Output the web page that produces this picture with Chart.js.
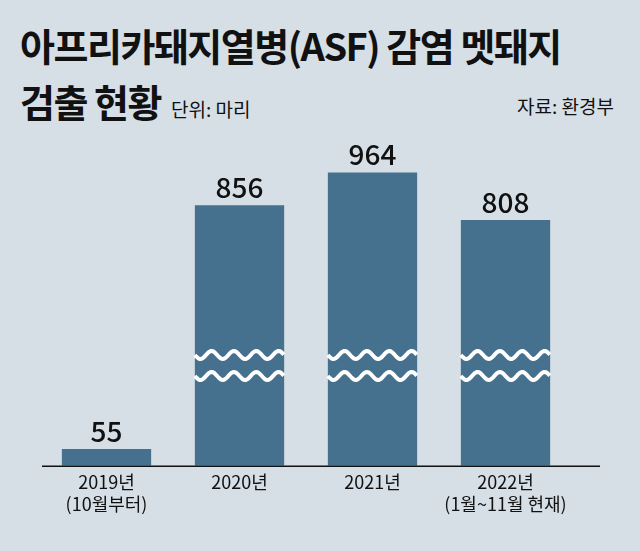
<!DOCTYPE html>
<html>
<head>
<meta charset="utf-8">
<script src="https://cdn.jsdelivr.net/npm/chart.js@4"></script>
<style>
  body { margin: 0; width: 640px; height: 551px; background: #d6dfe6; font-family: "Noto Sans CJK KR", sans-serif; position: relative; overflow: hidden; }
  .t1 { position: absolute; left: 20px; top: 20px; font-size: 38px; font-weight: 700; color: #111; letter-spacing: -1.5px; line-height: 50px; }
  .t2 { position: absolute; left: 20px; top: 76px; font-size: 38px; font-weight: 700; color: #111; letter-spacing: -1.5px; line-height: 50px; }
  .t2 span { font-size: 19px; font-weight: 400; margin-left: 10px; letter-spacing: 0; }
  .src { position: absolute; right: 26px; top: 92px; font-size: 19px; color: #111; }
  .wrap { position: absolute; left: 0; top: 125px; width: 640px; height: 426px; }
</style>
</head>
<body>
<div class="t1">아프리카돼지열병(ASF) 감염 멧돼지</div>
<div class="t2">검출 현황<span>단위: 마리</span></div>
<div class="src">자료: 환경부</div>
<div class="wrap"><canvas id="c"></canvas></div>
<script>
const categories = [["2019년", "(10월부터)"], ["2020년"], ["2021년"], ["2022년", "(1월~11월 현재)"]];
const values = [55, 856, 964, 808];
const barColor = "#45718f";

// value labels, wavy break marks and baseline
const decor = {
  id: "decor",
  afterDatasetsDraw(chart) {
    const ctx = chart.ctx;
    const meta = chart.getDatasetMeta(0);
    const bottom = chart.chartArea.bottom;
    ctx.save();
    meta.data.forEach((bar, i) => {
      ctx.fillStyle = "#111";
      ctx.font = "500 28px 'Noto Sans CJK KR', sans-serif";
      ctx.textAlign = "center";
      ctx.textBaseline = "bottom";
      ctx.fillText(values[i], bar.x, bar.y - 4);
      if (values[i] > 500) {
        const half = bar.width / 2;
        ctx.strokeStyle = "#fff";
        ctx.lineWidth = 4;
        [355 - 125, 376 - 125].forEach(y0 => {
          ctx.beginPath();
          for (let x = bar.x - half; x <= bar.x + half; x += 1) {
            const y = y0 + 4 * Math.sin((x - bar.x + half) / (bar.width / 4) * Math.PI * 2);
            if (x === bar.x - half) ctx.moveTo(x, y); else ctx.lineTo(x, y);
          }
          ctx.stroke();
        });
      }
    });
    ctx.strokeStyle = "#111";
    ctx.lineWidth = 1.5;
    ctx.beginPath();
    ctx.moveTo(42, bottom + 0.5);
    ctx.lineTo(600, bottom + 0.5);
    ctx.stroke();
    ctx.restore();
  }
};

new Chart(document.getElementById("c"), {
  type: "bar",
  data: {
    labels: categories,
    datasets: [{ data: values, backgroundColor: barColor, barPercentage: 0.85, categoryPercentage: 0.79 }]
  },
  options: {
    responsive: true,
    maintainAspectRatio: false,
    animation: false,
    layout: { padding: { left: 40, right: 68, top: 0, bottom: 30 } },
    plugins: { legend: { display: false }, tooltip: { enabled: false } },
    scales: {
      x: {
        grid: { display: false, drawTicks: false },
        border: { display: false },
        ticks: { color: "#111", autoSkip: false, maxRotation: 0, minRotation: 0,
                 font: { size: 18, family: "'Noto Sans CJK KR', sans-serif" }, padding: 6 }
      },
      y: { display: false, min: 0, max: 1120 }
    }
  },
  plugins: [decor]
});
</script>
</body>
</html>
